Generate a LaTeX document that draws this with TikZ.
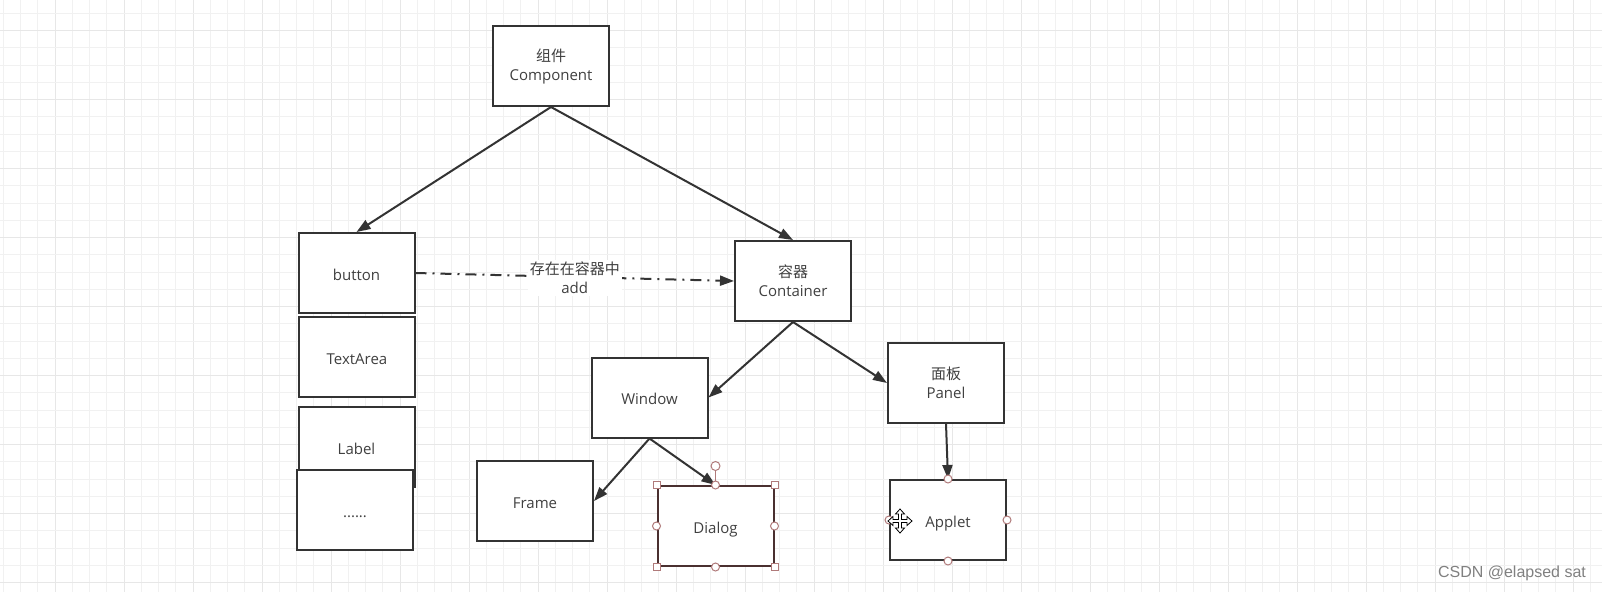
\documentclass[tikz,border=0pt]{standalone}
\usepackage{fontspec}
\setmainfont{Open Sans}
\newfontfamily\cjk{Noto Sans CJK SC}
\newfontfamily\wmfont{Liberation Sans}
\usetikzlibrary{arrows.meta,calc}
\definecolor{gridminor}{HTML}{F1F1F1}
\definecolor{gridmajor}{HTML}{E7E7E7}
\definecolor{boxline}{HTML}{333333}
\definecolor{txt}{HTML}{404040}
\definecolor{selline}{HTML}{4A3030}
\definecolor{handle}{HTML}{B07A7A}
\tikzset{
  box/.style={draw=boxline, line width=2pt, fill=white, minimum width=116pt,
    minimum height=80pt, inner sep=0pt, text=txt, align=center,
    font=\fontsize{15}{19}\selectfont},
  one/.style={text height=15pt, text depth=1pt},
  conn/.style={draw=boxline, line width=2pt,
    -{Triangle[length=14pt,width=10pt]}},
  dashconn/.style={conn, dash pattern=on 11pt off 6pt on 2pt off 6pt},
  sqhandle/.style={draw=handle, fill=white, line width=1pt, minimum size=7pt,
    inner sep=0pt, shape=rectangle},
  cihandle/.style={draw=handle, fill=white, line width=1pt, minimum size=8pt,
    inner sep=0pt, shape=circle},
}
\begin{document}
\begin{tikzpicture}[x=1pt,y=-1pt]
\useasboundingbox (0,0) rectangle (1602,592);
\fill[white] (0,0) rectangle (1602,592);
% grid
\foreach \k in {0,...,92}{
  \pgfmathtruncatemacro{\m}{mod(\k,4)}
  \ifnum\m=3
    \draw[gridmajor, line width=1pt] ({3.3+17.25*\k},0) -- ({3.3+17.25*\k},592);
  \else
    \draw[gridminor, line width=1pt] ({3.3+17.25*\k},0) -- ({3.3+17.25*\k},592);
  \fi
}
\foreach \k in {0,...,33}{
  \pgfmathtruncatemacro{\m}{mod(\k,4)}
  \ifnum\m=1
    \draw[gridmajor, line width=1pt] (0,{13.3+17.25*\k}) -- (1602,{13.3+17.25*\k});
  \else
    \draw[gridminor, line width=1pt] (0,{13.3+17.25*\k}) -- (1602,{13.3+17.25*\k});
  \fi
}
% nodes
\node[box] (comp) at (551,66) {{\cjk 组件}\\Component};
\node[box, one] (button) at (356.5,273) {button};
\node[box, one] (textarea) at (357,357) {TextArea};
\node[box, one] (label) at (356.5,447) {Label};
\node[box, one] (dots) at (355,510) {......};
\node[box] (container) at (793,281) {{\cjk 容器}\\Container};
\node[box, one] (window) at (649.5,397.5) {Window};
\node[box] (panel) at (946,383) {{\cjk 面板}\\Panel};
\node[box, one] (frame) at (535,501) {Frame};
\node[box, one, draw=selline] (dialog) at (715.5,526) {Dialog};
\node[box, one] (applet) at (948,520) {Applet};
% connectors
\draw[conn] (comp.south) -- (button.north);
\draw[conn] (comp.south) -- (container.north);
\draw[dashconn] (button.east) -- node[fill=white, inner sep=2pt, text=txt,
  align=center, font=\fontsize{15}{19}\selectfont, pos=0.5, yshift=-1pt] (addlbl)
  {{\cjk 存在在容器中}\\add} (container.west);
\draw[conn] (container.south) -- (window.east);
\draw[conn] (container.south) -- (panel.west);
\draw[conn] (window.south) -- (frame.east);
\draw[conn] (window.south) -- (dialog.north);
\draw[conn] (panel.south) -- (applet.north);
% selection handles of Dialog
\coordinate (rot) at ($(dialog.north)+(0,-19)$);
\draw[handle, line width=1pt] (dialog.north) -- (rot);
\node[cihandle, minimum size=9pt] (hrot) at (rot) {};
\node[sqhandle] (h1) at (dialog.north west) {};
\node[sqhandle] (h2) at (dialog.north east) {};
\node[sqhandle] (h3) at (dialog.south west) {};
\node[sqhandle] (h4) at (dialog.south east) {};
\node[cihandle] (h5) at (dialog.north) {};
\node[cihandle] (h6) at (dialog.south) {};
\node[cihandle] (h7) at (dialog.west) {};
\node[cihandle] (h8) at (dialog.east) {};
% connection points of Applet
\node[cihandle] (a1) at (applet.north) {};
\node[cihandle] (a2) at (applet.south) {};
\node[cihandle] (a3) at (applet.west) {};
\node[cihandle] (a4) at (applet.east) {};
% move cursor
\begin{scope}[shift={(900,521)}]
\draw[black, fill=white, line width=0.8pt, line join=miter]
  (0,-12) -- (4.5,-7) -- (1.5,-7) -- (1.5,-1.5) -- (7,-1.5) -- (7,-4.5) -- (12,0)
  -- (7,4.5) -- (7,1.5) -- (1.5,1.5) -- (1.5,7) -- (4.5,7) -- (0,12) -- (-4.5,7)
  -- (-1.5,7) -- (-1.5,1.5) -- (-7,1.5) -- (-7,4.5) -- (-12,0) -- (-7,-4.5)
  -- (-7,-1.5) -- (-1.5,-1.5) -- (-1.5,-7) -- (-4.5,-7) -- cycle;
\end{scope}
% watermark
\node[text=black!50, font=\wmfont\fontsize{16}{19}\selectfont, inner sep=0pt]
  (wm) at (1512,573) {CSDN @elapsed sat};
\end{tikzpicture}
\end{document}
